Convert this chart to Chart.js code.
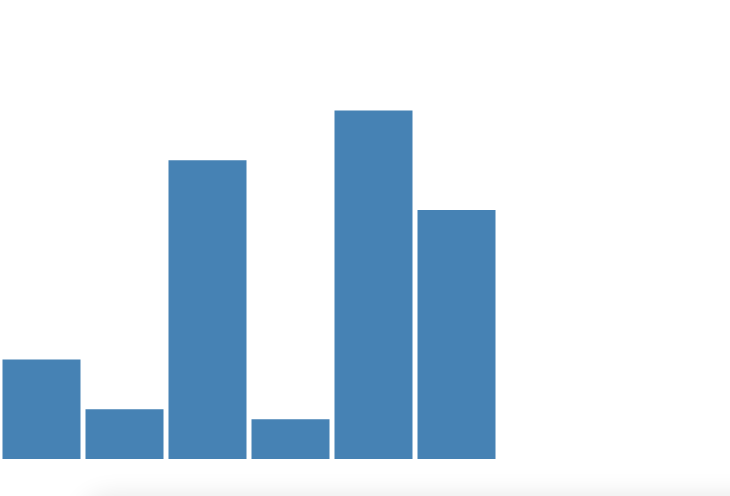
<!DOCTYPE html>
<html>
<head>
<meta charset="utf-8">
<script src="https://cdn.jsdelivr.net/npm/chart.js@4/dist/chart.umd.min.js"></script>
<style>
  html, body { margin: 0; padding: 0; background: #fff; overflow: hidden; }
  #wrap { position: relative; width: 730px; height: 496px; }
  #chart { position: absolute; left: 0; top: 0; }
  /* faint shadow of the page element below the chart */
  #shade {
    position: absolute; left: 80px; top: 498px; width: 720px; height: 60px;
    border-radius: 40px; box-shadow: 0 -2px 26px rgba(0,0,0,0.1);
  }
</style>
</head>
<body>
<div id="wrap">
  <canvas id="chart" width="730" height="496"></canvas>
  <div id="shade"></div>
</div>
<script>
// Bar data
const categories = ['a', 'b', 'c', 'd', 'e', 'f'];
const values = [10, 5, 30, 4, 35, 25];

const BAR_COLOR = '#4682b4';

new Chart(document.getElementById('chart'), {
  type: 'bar',
  data: {
    labels: categories,
    datasets: [{
      data: values,
      backgroundColor: BAR_COLOR,
      borderWidth: 0,
      barPercentage: 78 / 83,
      categoryPercentage: 1,
    }]
  },
  options: {
    responsive: false,
    devicePixelRatio: 1,
    animation: false,
    layout: { padding: { left: 0, right: 232, top: 0, bottom: 37 } },
    plugins: { legend: { display: false }, tooltip: { enabled: false } },
    scales: {
      x: { display: false, offset: true },
      y: { display: false, min: 0, max: 46.1 },
    },
  },
});
</script>
</body>
</html>
